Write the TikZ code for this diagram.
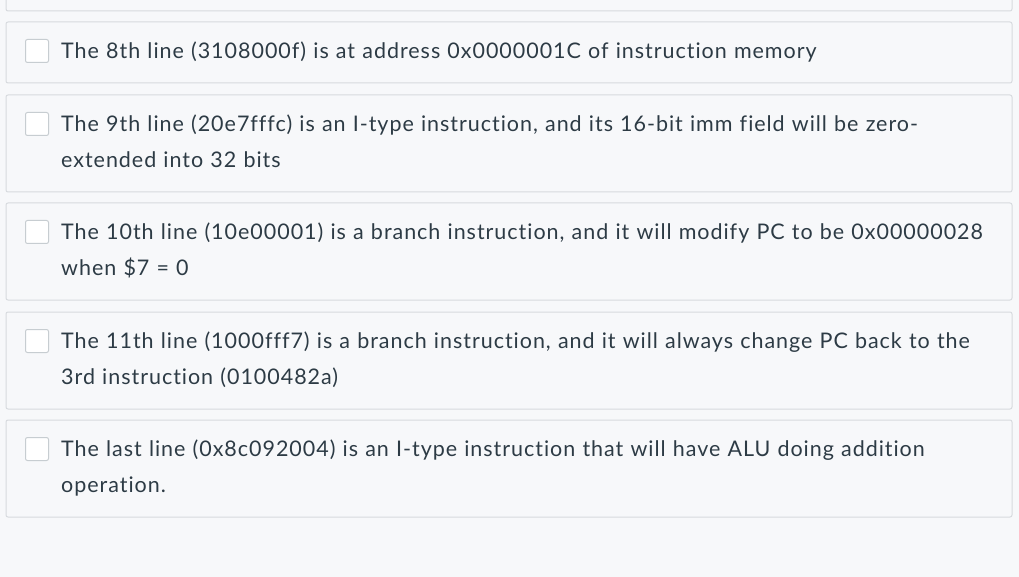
\documentclass[tikz,border=0pt]{standalone}
\usepackage{fontspec}
\setmainfont{Lato}[LetterSpace=4.5,Ligatures=NoCommon]
\definecolor{bg}{HTML}{F7F8FA}
\definecolor{bd}{HTML}{D7DADE}
\definecolor{tx}{HTML}{2D3B45}
\definecolor{cb}{HTML}{C7CDD1}
\tikzset{card/.style={draw=bd,fill=bg,rounded corners=2pt,line width=1pt},
chk/.style={draw=cb,fill=white,rounded corners=2pt,line width=1pt,minimum width=23pt,minimum height=23pt,inner sep=0pt},
lbl/.style={anchor=north west,inner sep=0pt,text=tx,font=\fontsize{21.5}{36}\selectfont,align=left,text width=945pt}}
\begin{document}
\begin{tikzpicture}[x=1pt,y=-1pt]
\fill[bg] (0,0) rectangle (1019,577);
\useasboundingbox (0,0) rectangle (1019,577);
\draw[card] (6,-10) rectangle (1012,11);
\foreach \t/\b [count=\i] in {22/83,95/192,203/300,312/409,420/517}{
  \draw[card] (6,\t) rectangle (1012,\b);
  \node[chk] (c\i) at (37,\t+29) {};
}
\node[lbl] (t1) at (61,42) {The 8th line (3108000f) is at address 0x0000001C of instruction memory};
\node[lbl] (t2) at (61,115) {The 9th line (20e7fffc) is an I-type instruction, and its 16-bit imm field will be zero-\\extended into 32 bits};
\node[lbl] (t3) at (61,223) {The 10th line (10e00001) is a branch instruction, and it will modify PC to be 0x00000028\\when \$7 = 0};
\node[lbl] (t4) at (61,332) {The 11th line (1000fff7) is a branch instruction, and it will always change PC back to the\\3rd instruction (0100482a)};
\node[lbl] (t5) at (61,440) {The last line (0x8c092004) is an I-type instruction that will have ALU doing addition\\operation.};
\end{tikzpicture}
\end{document}
